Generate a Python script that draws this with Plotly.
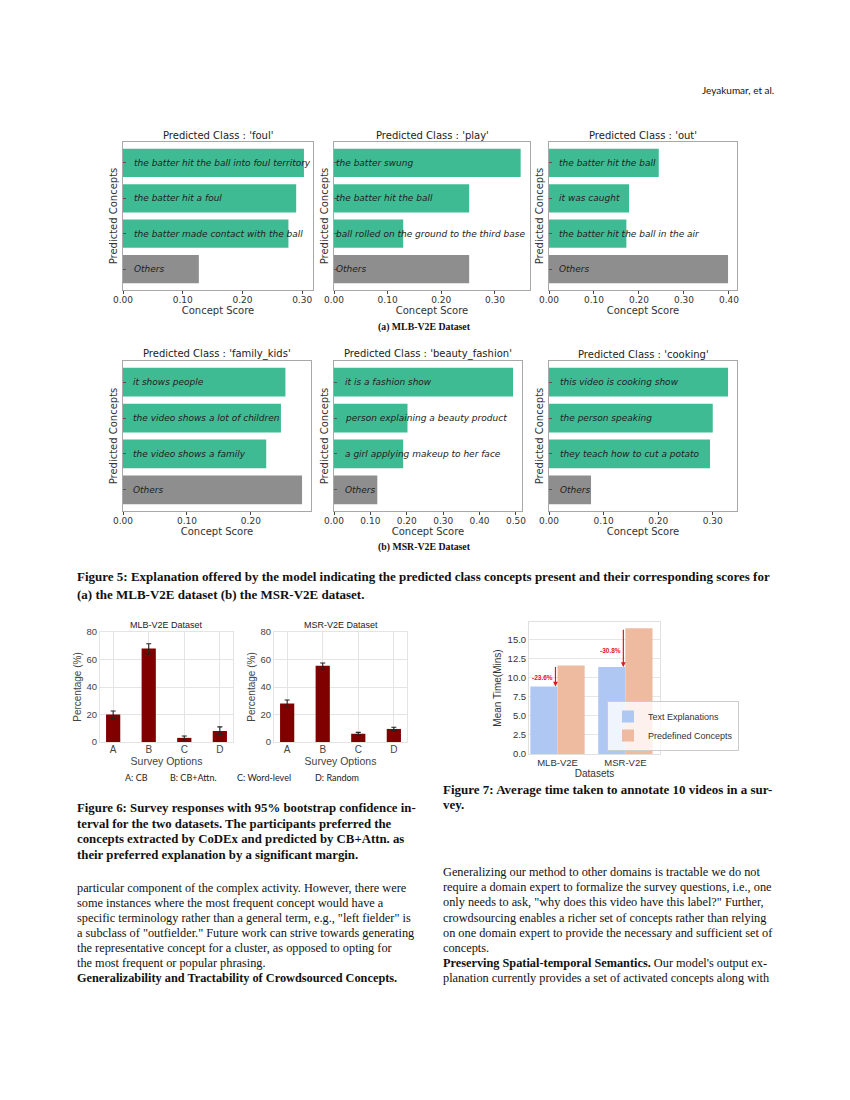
import plotly.graph_objects as go

W, H = 850, 1100
OFF = 8  # default page body margin of the written html


def fx(px):
    return (px - OFF) / W


def fy(py):
    return 1 - (py - OFF) / H


# ---------------- Figure 5 data ----------------
mlb_classes = ["foul", "play", "out"]
mlb_concepts = [
    ["the batter hit the ball into foul territory", "the batter hit a foul",
     "the batter made contact with the ball", "Others"],
    ["the batter swung", "the batter hit the ball",
     "ball rolled on the ground to the third base", "Others"],
    ["the batter hit the ball", "it was caught",
     "the batter hit the ball in the air", "Others"],
]
mlb_scores = [
    [0.303, 0.290, 0.277, 0.127],
    [0.348, 0.252, 0.129, 0.252],
    [0.244, 0.178, 0.172, 0.398],
]
msr_classes = ["family_kids", "beauty_fashion", "cooking"]
msr_concepts = [
    ["it shows people", "the video shows a lot of children",
     "the video shows a family", "Others"],
    ["it is a fashion show", "person explaining a beauty product",
     "a girl applying makeup to her face", "Others"],
    ["this video is cooking show", "the person speaking",
     "they teach how to cut a potato", "Others"],
]
msr_scores = [
    [0.254, 0.247, 0.224, 0.280],
    [0.492, 0.202, 0.190, 0.119],
    [0.328, 0.300, 0.295, 0.077],
]

# ---------------- Figure 6 data ----------------
survey_options = ["A", "B", "C", "D"]
survey_titles = ["MLB-V2E Dataset", "MSR-V2E Dataset"]
mlb_survey = [20, 68, 3, 8]
mlb_err_plus = [2.5, 3.5, 1.4, 3.0]
mlb_err_minus = [3.0, 4.0, 1.4, 2.5]
msr_survey = [28, 55.5, 6, 9.5]
msr_err_plus = [2.5, 2.0, 1.0, 1.2]
msr_err_minus = [2.5, 2.5, 1.0, 1.2]
option_legend = ["A: CB", "B: CB+Attn.", "C: Word-level", "D: Random"]

# ---------------- Figure 7 data ----------------
datasets = ["MLB-V2E", "MSR-V2E"]
text_expl_time = [8.86, 11.42]
predef_time = [11.6, 16.5]
reduction_labels = ["-23.6%", "-30.8%"]

GREEN = "#3fbb94"
GRAY = "#8e8e8e"
MAROON = "#800000"
BLUE = "#afc7f3"
SALMON = "#eebba0"

fig = go.Figure()
annotations = []
layout = {}

# panel domains in page pixels: (x0, x1, y_top, y_bottom)
fig5_domains = [
    (123, 313, 142, 290), (334, 530, 142, 290), (549, 737, 142, 290),
    (123, 311, 361, 511), (334, 522, 361, 511), (549, 737, 361, 511),
]
label_shift = [9, 0, 8, 8, 9, 9]

all_classes = mlb_classes + msr_classes
all_concepts = mlb_concepts + msr_concepts
all_scores = mlb_scores + msr_scores

MPL_FONT = "DejaVu Sans"

for i in range(6):
    n = i + 1
    xa = "x" if n == 1 else f"x{n}"
    ya = "y" if n == 1 else f"y{n}"
    x0, x1, t, b = fig5_domains[i]
    cats = all_concepts[i]
    vals = all_scores[i]
    colors = [GREEN] * (len(cats) - 1) + [GRAY]
    fig.add_trace(go.Bar(
        x=vals, y=cats, orientation="h", width=0.8,
        marker=dict(color=colors, line=dict(width=0)),
        xaxis=xa, yaxis=ya, showlegend=False, hoverinfo="x+y",
    ))
    layout["xaxis" if n == 1 else f"xaxis{n}"] = dict(
        domain=[fx(x0), fx(x1)], anchor=ya, range=[0, max(vals) * 1.05],
        tick0=0, dtick=0.1, tickformat=".2f", ticks="outside", ticklen=3,
        tickcolor="#444", showline=True, mirror=True, linecolor="#a8a8a8",
        showgrid=False, zeroline=False, ticklabelstandoff=-2,
        tickfont=dict(family=MPL_FONT, size=9, color="#333"),
        title=dict(text="Concept Score", standoff=2,
                   font=dict(family=MPL_FONT, size=10, color="#333")),
        automargin=False,
    )
    layout["yaxis" if n == 1 else f"yaxis{n}"] = dict(
        domain=[fy(b), fy(t)], anchor=xa, type="category",
        categoryorder="array", categoryarray=cats,
        range=[len(cats) - 1 + 0.59, -0.59],
        showticklabels=False, ticks="inside", ticklen=3, tickcolor="#555",
        showline=True, mirror=True, linecolor="#a8a8a8", showgrid=False,
        zeroline=False,
        title=dict(text="Predicted Concepts", standoff=2,
                   font=dict(family=MPL_FONT, size=10, color="#333")),
        automargin=False,
    )
    for c in cats:
        annotations.append(dict(
            x=0, y=c, xref=xa, yref=ya, text=c, showarrow=False,
            xanchor="left", yanchor="middle", xshift=label_shift[i],
            font=dict(family=MPL_FONT, size=9, color="#222", style="italic"),
        ))
    annotations.append(dict(
        x=fx((x0 + x1) / 2), y=fy(t - 7), xref="paper", yref="paper",
        text=f"Predicted Class : '{all_classes[i]}'", showarrow=False,
        xanchor="center", yanchor="middle",
        font=dict(family=MPL_FONT, size=10, color="#222"),
    ))

# ---------------- Figure 6 panels ----------------
SANS = "Liberation Sans"
fig6_domains = [(100, 233, 632, 742), (274, 407, 632, 742)]
survey_vals = [mlb_survey, msr_survey]
survey_plus = [mlb_err_plus, msr_err_plus]
survey_minus = [mlb_err_minus, msr_err_minus]
for j in range(2):
    n = 7 + j
    xa, ya = f"x{n}", f"y{n}"
    x0, x1, t, b = fig6_domains[j]
    fig.add_trace(go.Bar(
        x=survey_options, y=survey_vals[j], width=0.4,
        marker=dict(color=MAROON, line=dict(width=0)),
        error_y=dict(type="data", array=survey_plus[j],
                     arrayminus=survey_minus[j], color="#222",
                     thickness=1.1, width=2.5),
        xaxis=xa, yaxis=ya, showlegend=False,
    ))
    layout[f"xaxis{n}"] = dict(
        domain=[fx(x0), fx(x1)], anchor=ya, range=[-0.37, 3.37],
        showgrid=True, gridcolor="#e4e4e4", showline=True, mirror=True,
        linecolor="#e4e4e4", ticks="", zeroline=False, ticklabelstandoff=-2,
        tickfont=dict(family=SANS, size=10, color="#444"),
        title=dict(text="Survey Options", standoff=1,
                   font=dict(family=SANS, size=10.5, color="#444")),
        automargin=False,
    )
    layout[f"yaxis{n}"] = dict(
        domain=[fy(b), fy(t)], anchor=xa, range=[0, 80], dtick=20,
        showgrid=True, gridcolor="#e4e4e4", showline=True, mirror=True,
        linecolor="#e4e4e4", ticks="", zeroline=False,
        tickfont=dict(family=SANS, size=9.5, color="#444"),
        title=dict(text="Percentage (%)", standoff=3,
                   font=dict(family=SANS, size=10, color="#444")),
        automargin=False,
    )
    annotations.append(dict(
        x=fx((x0 + x1) / 2), y=fy(t - 7), xref="paper", yref="paper",
        text=survey_titles[j], showarrow=False, xanchor="center",
        yanchor="middle", font=dict(family=SANS, size=9, color="#222"),
    ))

legend_x = [123, 168, 235, 313]
for lbl, lx in zip(option_legend, legend_x):
    annotations.append(dict(
        x=fx(lx), y=fy(777), xref="paper", yref="paper", text=lbl,
        showarrow=False, xanchor="left", yanchor="middle",
        font=dict(family="Lato", size=9, color="#222"),
    ))

# ---------------- Figure 7 panel ----------------
x0, x1, t, b = (529, 660, 622, 754)
fig.add_trace(go.Bar(
    x=datasets, y=text_expl_time, name="Text Explanations",
    width=0.4, offset=-0.4, marker=dict(color=BLUE, line=dict(width=0)),
    xaxis="x9", yaxis="y9",
))
fig.add_trace(go.Bar(
    x=datasets, y=predef_time, name="Predefined Concepts",
    width=0.4, offset=0.0, marker=dict(color=SALMON, line=dict(width=0)),
    xaxis="x9", yaxis="y9",
))
layout["xaxis9"] = dict(
    domain=[fx(x0), fx(x1)], anchor="y9", range=[-0.42, 1.51],
    showgrid=False, showline=True, mirror=True, linecolor="#e0e0e0",
    ticks="", zeroline=False,
    tickfont=dict(family=SANS, size=9.5, color="#333"),
    title=dict(text="Datasets", standoff=1,
               font=dict(family=SANS, size=10, color="#333")),
    automargin=False,
)
layout["yaxis9"] = dict(
    domain=[fy(b), fy(t)], anchor="x9", range=[0, max(predef_time) * 1.05],
    dtick=2.5, tickformat=".1f", showgrid=True, gridcolor="#e6e6e6",
    showline=True, mirror=True, linecolor="#e0e0e0", ticks="",
    zeroline=False, tickfont=dict(family=SANS, size=9.5, color="#333"),
    title=dict(text="Mean Time(Mins)", standoff=4,
               font=dict(family=SANS, size=10, color="#333")),
    automargin=False,
)
for k in range(len(datasets)):
    ax_x = k - 0.03
    annotations.append(dict(
        x=ax_x, y=text_expl_time[k], xref="x9", yref="y9",
        ax=ax_x, ay=predef_time[k], axref="x9", ayref="y9",
        text="", showarrow=True, arrowhead=2, arrowsize=0.8,
        arrowwidth=1.2, arrowcolor="#e8141c", standoff=0, startstandoff=0,
    ))
    annotations.append(dict(
        x=k - 0.22,
        y=text_expl_time[k] + (predef_time[k] - text_expl_time[k]) * 0.42,
        xref="x9", yref="y9", text=f"<b>{reduction_labels[k]}</b>",
        showarrow=False, xanchor="center", yanchor="middle",
        font=dict(family=SANS, size=6.5, color="#e8141c"),
    ))

# ---------------- page text ----------------
SERIF = "Liberation Serif"
BOLD_SIZE = 12.8
BODY_SIZE = 12.3


def line(x, y, text, size=BODY_SIZE, anchor="left", color="#111",
         family=SERIF):
    annotations.append(dict(
        x=fx(x), y=fy(y), xref="paper", yref="paper", text=text,
        showarrow=False, xanchor=anchor, yanchor="middle",
        font=dict(family=family, size=size, color=color),
    ))


line(776, 90, "Jeyakumar, et al.", size=10, anchor="right", family="Lato")
line(424, 327, "<b>(a) MLB-V2E Dataset</b>", size=9.8, anchor="center")
line(424, 547, "<b>(b) MSR-V2E Dataset</b>", size=9.8, anchor="center")

fig5_caption = [
    "<b>Figure 5: Explanation offered by the model indicating the predicted class concepts present and their corresponding scores for</b>",
    "<b>(a) the MLB-V2E dataset (b) the MSR-V2E dataset.</b>",
]
for k, s in enumerate(fig5_caption):
    line(75, 576 + 18 * k, s, size=13.0)

fig6_caption = [
    "<b>Figure 6: Survey responses with 95% bootstrap confidence in-</b>",
    "<b>terval for the two datasets. The participants preferred the</b>",
    "<b>concepts extracted by CoDEx and predicted by CB+Attn. as</b>",
    "<b>their preferred explanation by a significant margin.</b>",
]
for k, s in enumerate(fig6_caption):
    line(75, 808 + 15.5 * k, s, size=BOLD_SIZE)

left_body = [
    "particular component of the complex activity. However, there were",
    "some instances where the most frequent concept would have a",
    "specific terminology rather than a general term, e.g., \"left fielder\" is",
    "a subclass of \"outfielder.\" Future work can strive towards generating",
    "the representative concept for a cluster, as opposed to opting for",
    "the most frequent or popular phrasing.",
    "<b>Generalizability and Tractability of Crowdsourced Concepts.</b>",
]
for k, s in enumerate(left_body):
    line(75, 888 + 15 * k, s)

fig7_caption = [
    "<b>Figure 7: Average time taken to annotate 10 videos in a sur-</b>",
    "<b>vey.</b>",
]
for k, s in enumerate(fig7_caption):
    line(441, 789 + 16 * k, s, size=13.0)

right_body = [
    "Generalizing our method to other domains is tractable we do not",
    "require a domain expert to formalize the survey questions, i.e., one",
    "only needs to ask, \"why does this video have this label?\" Further,",
    "crowdsourcing enables a richer set of concepts rather than relying",
    "on one domain expert to provide the necessary and sufficient set of",
    "concepts.",
    "<b>Preserving Spatial-temporal Semantics.</b> Our model's output ex-",
    "planation currently provides a set of activated concepts along with",
]
for k, s in enumerate(right_body):
    line(441, 872 + 15.2 * k, s)

fig.update_layout(
    width=W, height=H, margin=dict(l=0, r=0, t=0, b=0),
    paper_bgcolor="white", plot_bgcolor="white",
    barmode="group", bargap=0.2, bargroupgap=0,
    annotations=annotations,
    legend=dict(
        x=fx(607), y=fy(751), xanchor="left", yanchor="bottom",
        bgcolor="rgba(255,255,255,0.8)", bordercolor="#cccccc",
        borderwidth=1, font=dict(family=SANS, size=9, color="#333"),
        itemwidth=30, tracegroupgap=0,
    ),
    **layout,
)

fig.write_html("out.html")
